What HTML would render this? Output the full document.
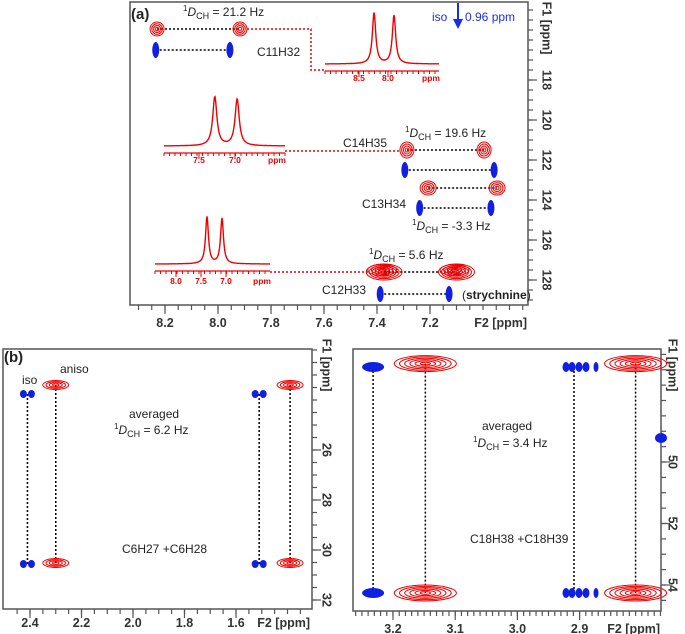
<!DOCTYPE html>
<html><head><meta charset="utf-8"><style>
html,body{margin:0;padding:0;background:#fff;}
svg{display:block;font-family:"Liberation Sans",Arial,sans-serif;}
</style></head><body>
<svg id="fig" width="685" height="634" viewBox="0 0 685 634" xmlns="http://www.w3.org/2000/svg"></svg>
<script>
// ---------- DATA ----------
const aXTicks = [8.2, 8.0, 7.8, 7.6, 7.4, 7.2];
const aYTicks = [118, 120, 122, 124, 126, 128];
const aRedPeaks = [[8.230,115.45],[7.917,115.45],[7.287,121.5],[6.996,121.5],[7.207,123.4],[6.947,123.4],[7.373,127.6],[7.100,127.6]];
const aBluePeaks = [[8.235,116.5],[7.955,116.5],[7.295,122.5],[6.958,122.5],[7.239,124.4],[6.970,124.4],[7.388,128.7],[7.128,128.7]];
const aRedSize = [[7,7],[7,7],[7,8],[7,8],[8,7],[8,7],[18,8],[18,8]];
const aLabels = ["C11H32","C14H35","C13H34","C12H33"];
const aCouplings = ["21.2","19.6","-3.3","5.6"];
const inset1Peaks = [8.24, 7.896]; const inset1Heights = [1.0, 0.95];
const inset2Peaks = [7.28, 6.97]; const inset2Heights = [1.0, 0.95];
const inset3Peaks = [7.38, 7.08]; const inset3Heights = [1.0, 0.97];
const bXTicks = [2.4, 2.2, 2.0, 1.8, 1.6];
const bYTicks = [26, 28, 30, 32];
const bIsoX = [2.41, 1.51]; const bAnisoX = [2.30, 1.39];
const bIsoY = [23.76, 30.56]; const bAnisoY = [23.4, 30.52];
const cXTicks = [3.2, 3.1, 3.0, 2.9];
const cYTicks = [50, 52, 54];
const cIsoX = [3.232, 2.909]; const cAnisoX = [3.148, 2.81];
const cIsoY = [46.91, 54.26]; const cAnisoY = [46.8, 54.26];

// ---------- AXIS FUNCTIONS ----------
const ax = p => 165 + (8.2 - p) * 265;
const ay = p => 80 + (p - 118) * 20;
const bx = p => 30 + (2.4 - p) * 257.5;
const by = p => 450 + (p - 26) * 25;
const cx = p => 393 + (3.2 - p) * 622;
const cy = p => 462 + (p - 50) * 30.75;

const svg = document.getElementById('fig');
const NS = 'http://www.w3.org/2000/svg';
function el(tag, attrs, parent, text) {
  const e = document.createElementNS(NS, tag);
  for (const k in attrs) e.setAttribute(k, attrs[k]);
  if (text !== undefined) e.textContent = text;
  (parent || svg).appendChild(e);
  return e;
}
function grp(name) {
  const g = el('g', {});
  
  
  return g;
}
function txt(g, x, y, s, extra, name) {
  const t = el('text', Object.assign({x: x, y: y, 'font-size': 12, fill: '#222'}, extra || {}), g, s);
  
  
  return t;
}
function dch(g, x, y, val, color) {
  const t = el('text', {x: x, y: y, 'font-size': 12, fill: color || '#222'}, g);
  
  
  el('tspan', {'font-size': 8, dy: -5}, t, '1');
  el('tspan', {'font-style': 'italic', dy: 5}, t, 'D');
  el('tspan', {'font-size': 9, dy: 3}, t, 'CH');
  el('tspan', {dy: -3}, t, ' = ' + val + ' Hz');
}
function contour(g, x, y, rx, ry, n, color) {
  for (let i = 0; i < n; i++) {
    const f = 1 - i / n;
    const e = el('ellipse', {cx: x, cy: y, rx: rx * f, ry: ry * f, fill: 'none', stroke: color, 'stroke-width': 1}, g);
    
    
  }
}
function blob(g, x, y, rx, ry, color) {
  const e = el('ellipse', {cx: x, cy: y, rx: rx, ry: ry, fill: color}, g);
  
  
}
function dotted(g, x1, y1, x2, y2, color) {
  const l = el('line', {x1: x1, y1: y1, x2: x2, y2: y2, stroke: color || '#000', 'stroke-width': 1.5, 'stroke-dasharray': '2,2'}, g);
  
  
}
function frame(g, x, y, w, h) {
  const r = el('rect', {x: x, y: y, width: w, height: h, fill: 'none', stroke: '#555', 'stroke-width': 1.5}, g);
  
  
}
function xAxis(g, ticks, fx, y0, x0, x1, step, labY, unitX) {
  const lo = Math.min(fx.inv0, fx.inv1), hi = Math.max(fx.inv0, fx.inv1);
  for (let v = Math.ceil(lo / step) * step; v <= hi + 1e-9; v += step) {
    const X = fx.f(v); if (X < x0 - 1 || X > x1 + 1) continue;
    el('line', {x1: X, y1: y0, x2: X, y2: y0 + 5, stroke: '#555', 'stroke-width': 1.2}, g);
  }
  ticks.forEach(t => {
    const X = fx.f(t);
    el('line', {x1: X, y1: y0, x2: X, y2: y0 + 9, stroke: '#555', 'stroke-width': 1.2}, g);
    txt(g, X, labY, t.toFixed(1), {'text-anchor': 'middle', 'font-weight': 'bold', 'font-size': 12.5, fill: '#333'}, 'x-tick-label');
  });
  txt(g, unitX, labY, 'F2 [ppm]', {'text-anchor': 'end', 'font-weight': 'bold', 'font-size': 12.5, fill: '#333'}, 'x-axis-title');
}
function yAxis(g, ticks, fy, x0, y0, y1, step, labX, lo, hi, titleY) {
  for (let v = lo; v <= hi + 1e-9; v += step) {
    const Y = fy(v); if (Y < y0 - 1 || Y > y1 + 1) continue;
    el('line', {x1: x0, y1: Y, x2: x0 + 5, y2: Y, stroke: '#555', 'stroke-width': 1.2}, g);
  }
  ticks.forEach(t => {
    const Y = fy(t);
    el('line', {x1: x0, y1: Y, x2: x0 + 9, y2: Y, stroke: '#555', 'stroke-width': 1.2}, g);
    txt(g, labX, Y, String(t), {'text-anchor': 'middle', 'font-weight': 'bold', 'font-size': 12.5, fill: '#333', transform: 'rotate(90 ' + labX + ' ' + Y + ')', 'dominant-baseline': 'middle'}, 'y-tick-label');
  });
  txt(g, labX, titleY, 'F1 [ppm]', {'text-anchor': 'middle', 'font-weight': 'bold', 'font-size': 12.5, fill: '#333', transform: 'rotate(90 ' + labX + ' ' + titleY + ')', 'dominant-baseline': 'middle'}, 'y-axis-title');
}
function inset(g, x0, x1, base, top, peaks, heights, pmin, pmax, tickLabels, tickPos, labY) {
  const px = p => x0 + (pmax - p) / (pmax - pmin) * (x1 - x0);
  let d = '';
  for (let X = x0; X <= x1; X += 0.5) {
    const p = pmax - (X - x0) / (x1 - x0) * (pmax - pmin);
    let s = 0;
    peaks.forEach((c, i) => { const w = 0.035; s += heights[i] / (1 + ((p - c) / w) ** 2); });
    const Y = base - s * (base - top);
    d += (d ? 'L' : 'M') + X.toFixed(1) + ',' + Y.toFixed(1);
  }
  const path = el('path', {d: d, fill: 'none', stroke: '#e00', 'stroke-width': 1.4}, g);
  
  
  const ayy = base + 7;
  el('line', {x1: x0, y1: ayy, x2: x1, y2: ayy, stroke: '#e00', 'stroke-width': 1.2}, g);
  for (let X = x0; X <= x1; X += 5.5) el('line', {x1: X, y1: ayy, x2: X, y2: ayy + 3, stroke: '#e00', 'stroke-width': 1}, g);
  tickLabels.forEach((t, i) => {
    const X = px(tickPos[i]);
    el('line', {x1: X, y1: ayy, x2: X, y2: ayy + 6, stroke: '#e00', 'stroke-width': 1}, g);
    txt(g, X, labY, t, {'text-anchor': 'middle', 'font-size': 8.5, 'font-weight': 'bold', fill: '#e00'}, 'inset-tick-label');
  });
  txt(g, x1 - 8, labY, 'ppm', {'text-anchor': 'middle', 'font-size': 8.5, 'font-weight': 'bold', fill: '#e00'}, 'inset-unit');
}

// ---------- PANEL A ----------
const A = grp('panel-a');
frame(A, 130, 2, 398, 303);
xAxis(A, aXTicks, {f: ax, inv0: 8.33, inv1: 6.83}, 305, 130, 528, 0.05, 327, 527);
yAxis(A, aYTicks, ay, 528, 2, 305, 0.5, 546, 114, 129, 28);
txt(A, 131, 19, '(a)', {'font-weight': 'bold', 'font-size': 15, fill: '#222'}, 'panel-a-label');

for (let i = 0; i < 4; i++) {
  const r1 = aRedPeaks[2 * i], r2 = aRedPeaks[2 * i + 1];
  const b1 = aBluePeaks[2 * i], b2 = aBluePeaks[2 * i + 1];
  dotted(A, ax(r1[0]), ay(r1[1]), ax(r2[0]), ay(r2[1]));
  dotted(A, ax(b1[0]), ay(b1[1]), ax(b2[0]), ay(b2[1]));
}
aRedPeaks.forEach((p, i) => contour(A, ax(p[0]), ay(p[1]), aRedSize[i][0], aRedSize[i][1], i >= 6 ? 6 : 4, '#e00'));
aRedPeaks.forEach((p, i) => { if (i >= 6) { contour(A, ax(p[0]) - 2, ay(p[1]) - 2, aRedSize[i][0] * 0.8, aRedSize[i][1] * 0.7, 4, '#e00'); } });
aBluePeaks.forEach(p => blob(A, ax(p[0]), ay(p[1]), 3.5, 8, '#1020e0'));

const rc = el('polyline', {points: [ax(aRedPeaks[1][0]) + 7, ay(aRedPeaks[1][1]), 311, ay(aRedPeaks[1][1]), 311, 70, 325, 70].join(' '), fill: 'none', stroke: '#e00', 'stroke-width': 1.5, 'stroke-dasharray': '2,2'}, A);


dotted(A, 285, 151, ax(aRedPeaks[2][0]) - 7, 151, '#e00');
dotted(A, 270, 272, ax(aRedPeaks[6][0]) - 16, 272, '#e00');

inset(A, 325, 439, 64, 13, inset1Peaks, inset1Heights, 7.12, 9.086, ['8.5', '8.0'], [8.5, 8.0], 81);
inset(A, 164, 285, 146, 97, inset2Peaks, inset2Heights, 6.305, 7.986, ['7.5', '7.0'], [7.5, 7.0], 163);
inset(A, 155, 270, 264, 217, inset3Peaks, inset3Heights, 6.12, 8.42, ['8.0', '7.5', '7.0'], [8.0, 7.5, 7.0], 284);

txt(A, 257, 56, aLabels[0], {}, 'c11h32-label');
txt(A, 343, 147, aLabels[1], {}, 'c14h35-label');
txt(A, 362, 208, aLabels[2], {}, 'c13h34-label');
txt(A, 322, 294, aLabels[3], {}, 'c12h33-label');
dch(A, 183, 16, aCouplings[0]);
dch(A, 405, 137, aCouplings[1]);
dch(A, 412, 230, aCouplings[2]);
dch(A, 369, 259, aCouplings[3]);
const st = txt(A, 462, 299, '', {}, 'compound-label');
el('tspan', {}, st, '(');
el('tspan', {'font-weight': 'bold'}, st, 'strychnine');
el('tspan', {}, st, ')');
txt(A, 432, 21, 'iso', {fill: '#1a2ee8'}, 'iso-label');
const arr = el('line', {x1: 458, y1: 3, x2: 458, y2: 22, stroke: '#1a2ee8', 'stroke-width': 2}, A);


el('polygon', {points: '453,19 463,19 458,29', fill: '#1a2ee8'}, A);
txt(A, 465, 21, '0.96 ppm', {fill: '#1a2ee8'}, 'iso-shift-label');

// ---------- PANEL B ----------
const B = grp('panel-b');
frame(B, 3, 349, 309, 260);
xAxis(B, bXTicks, {f: bx, inv0: 2.49, inv1: 1.29}, 609, 3, 312, 0.05, 627, 310);
yAxis(B, bYTicks, by, 312, 349, 609, 0.5, 326, 22, 32.5, 365);
txt(B, 4, 362, '(b)', {'font-weight': 'bold', 'font-size': 15, fill: '#222'}, 'panel-b-label');
for (let i = 0; i < 2; i++) {
  dotted(B, bx(bIsoX[i]), by(bIsoY[0]), bx(bIsoX[i]), by(bIsoY[1]));
  dotted(B, bx(bAnisoX[i]), by(bAnisoY[0]), bx(bAnisoX[i]), by(bAnisoY[1]));
  bIsoY.forEach(y => { blob(B, bx(bIsoX[i]) - 4, by(y), 3.5, 4, '#1020e0'); blob(B, bx(bIsoX[i]) + 4, by(y), 3.5, 4, '#1020e0'); });
  bAnisoY.forEach(y => contour(B, bx(bAnisoX[i]), by(y), 13, 4.5, 4, '#e00'));
}
txt(B, 22, 384, 'iso', {}, 'iso-label');
txt(B, 60, 373, 'aniso', {}, 'aniso-label');
txt(B, 129, 418, 'averaged', {}, 'averaged-label');
dch(B, 114, 434, '6.2');
txt(B, 122, 553, 'C6H27 +C6H28', {}, 'c6-label');

// ---------- PANEL C ----------
const C = grp('panel-c');
frame(C, 353, 349, 308, 262);
xAxis(C, cXTicks, {f: cx, inv0: 3.27, inv1: 2.77}, 611, 353, 661, 0.01, 633, 660);
yAxis(C, cYTicks, cy, 661, 349, 611, 0.5, 672, 46.5, 55, 365);
for (let i = 0; i < 2; i++) {
  dotted(C, cx(cIsoX[i]), cy(cIsoY[0]), cx(cIsoX[i]), cy(cIsoY[1]));
  dotted(C, cx(cAnisoX[i]), cy(cAnisoY[0]), cx(cAnisoX[i]), cy(cAnisoY[1]));
  cAnisoY.forEach(y => contour(C, cx(cAnisoX[i]), cy(y), 31, 8, 6, '#e00'));
}
cIsoY.forEach(y => {
  blob(C, cx(cIsoX[0]), cy(y), 11, 5, '#1020e0');
  [-8, -2, 5, 12, 22].forEach((d, k) => blob(C, cx(cIsoX[1]) + d, cy(y), k === 4 ? 2.5 : 3.5, 5, '#1020e0'));
});
blob(C, 661, 438, 6, 5, '#1020e0');
txt(C, 482, 430, 'averaged', {}, 'averaged-label');
dch(C, 473, 447, '3.4');
txt(C, 470, 543, 'C18H38 +C18H39', {}, 'c18-label');
</script>
</body></html>
